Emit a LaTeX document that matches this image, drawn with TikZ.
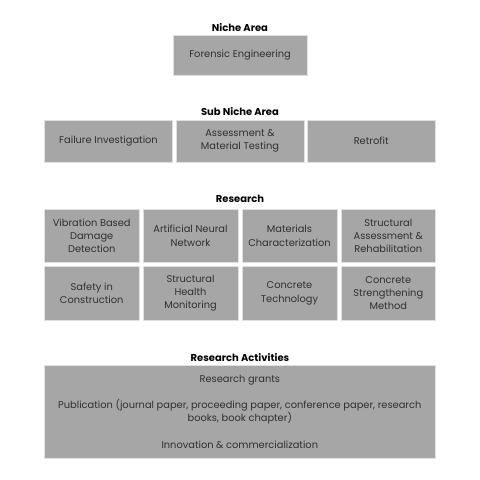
\documentclass[tikz,border=0pt]{standalone}
\usepackage{fontspec}
\setmainfont{Poppins}
\definecolor{boxgray}{HTML}{A6A6A6}
\definecolor{txtgray}{HTML}{303030}

\begin{document}
\begin{tikzpicture}
[x=0.5mm,y=-0.5mm,
 every node/.style={font=\fontsize{14}{18.8}\selectfont},
 box/.style={rectangle,fill=boxgray,draw=black!12,line width=0.5pt,text=txtgray,align=center,inner sep=0pt},
 subbox/.style={box,minimum width=64mm,minimum height=21.15mm},
 resbox/.style={box,minimum width=47.25mm,minimum height=26.65mm},
 head/.style={font=\fontsize{14.2}{19}\selectfont\bfseries,text=black}]
\useasboundingbox (0,0) rectangle (480,480);
% niche area
\node[head] (hniche) at (240,27.3) {Niche Area};
\node[box,minimum width=66.7mm,minimum height=19.65mm] (forensic) at (240,55.3) {Forensic Engineering};
% sub niche area
\node[head] (hsub) at (240,111.7) {Sub Niche Area};
\node[subbox] (failure) at (108.5,141.2) {Failure Investigation};
\node[subbox] (assess) at (240,141.2) {Assessment \&\\Material Testing};
\node[subbox] (retrofit) at (371.2,141.2) {Retrofit};
% research
\node[head] (hres) at (240,199) {Research};
\node[resbox] (vibration) at (91.7,235.7) {Vibration Based\\Damage\\Detection};
\node[resbox] (ann) at (190.5,235.7) {Artificial Neural\\Network};
\node[resbox] (material) at (289.5,235.7) {Materials\\Characterization};
\node[resbox] (rehab) at (388.3,235.7) {Structural\\Assessment \&\\Rehabilitation};
\node[resbox] (safety) at (91.7,293.3) {Safety in\\Construction};
\node[resbox] (shm) at (190.5,293.3) {Structural\\Health\\Monitoring};
\node[resbox] (concrete) at (289.5,293.3) {Concrete\\Technology};
\node[resbox] (strength) at (388.3,293.3) {Concrete\\Strengthening\\Method};
% research activities
\node[head] (hact) at (240,357.3) {Research Activities};
\node[box,minimum width=195.8mm,minimum height=46.65mm] (activities) at (239.8,411.7)
 {Research grants\\[18.8pt]Publication (journal paper, proceeding paper, conference paper, research\\books, book chapter)\\[18.8pt]Innovation \& commercialization};
\end{tikzpicture}
\end{document}
